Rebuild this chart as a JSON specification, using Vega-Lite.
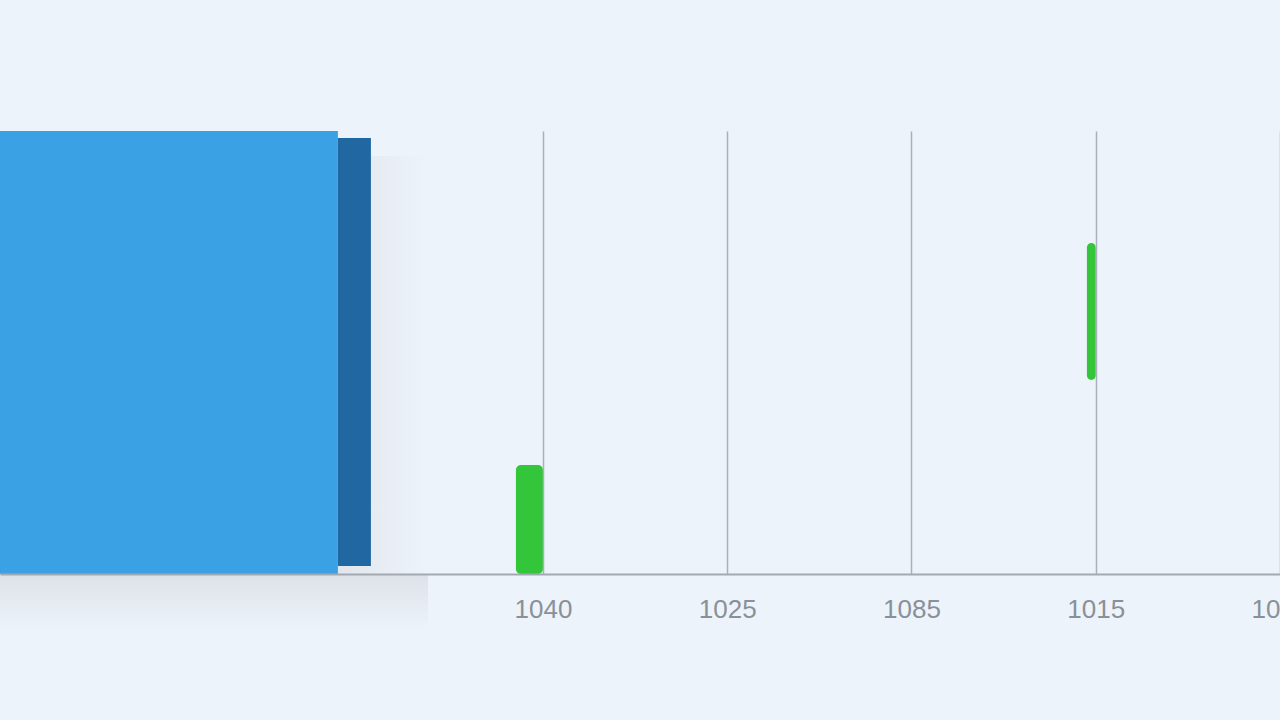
{
  "$schema": "https://vega.github.io/schema/vega-lite/v6.json",
  "description": "Single blue block and two thin green range bars on a light background.",
  "width": 1280,
  "height": 443,
  "autosize": {"type": "none"},
  "padding": {"left": 0, "top": 131, "right": 0, "bottom": 146},
  "background": "#edf3fa",
  "config": {"view": {"stroke": null}},
  "datasets": {
    "bars": [
      {"series": "blue", "start": -1.947, "end": -0.113, "low": 0, "high": 100},
      {"series": "green", "start": 0.853, "end": 1.0, "low": 0, "high": 24.6},
      {"series": "green", "start": 3.952, "end": 4.0, "low": 43.8, "high": 74.7}
    ]
  },
  "data": {"name": "bars"},
  "encoding": {
    "x": {
      "field": "start",
      "type": "quantitative",
      "scale": {"domain": [-1.947, 5], "nice": false, "zero": false},
      "axis": {
        "title": null,
        "values": [1, 2, 3, 4, 5],
        "labelExpr": "['', '1040', '1025', '1085', '1015', '1085'][datum.value]",
        "grid": true,
        "gridColor": "#a9b0b8",
        "gridWidth": 1.5,
        "ticks": false,
        "domainColor": "#a3a9b0",
        "domainWidth": 2,
        "labelFont": "Liberation Sans",
        "labelFontSize": 26,
        "labelColor": "#8a9098",
        "labelPadding": 22,
        "labelFlush": false,
        "labelOverlap": false,
        "zindex": 1
      }
    },
    "x2": {"field": "end"},
    "y": {
      "field": "high",
      "type": "quantitative",
      "scale": {"domain": [0, 100], "nice": false},
      "axis": null
    },
    "y2": {"field": "low"}
  },
  "layer": [
    {
      "transform": [{"filter": "datum.series == 'blue'"}],
      "mark": {
        "type": "rect",
        "x2Offset": 90,
        "yOffset": 25,
        "color": {
          "gradient": "linear",
          "x1": 0, "y1": 0, "x2": 1, "y2": 0,
          "stops": [
            {"offset": 0, "color": "#e2e7ed"},
            {"offset": 1, "color": "#edf3fa"}
          ]
        }
      },
      "encoding": {"x": {"field": "end", "type": "quantitative"}, "x2": {"field": "end"}}
    },
    {
      "transform": [{"filter": "datum.series == 'blue'"}],
      "mark": {
        "type": "rect",
        "x2Offset": 90,
        "y2Offset": 55,
        "color": {
          "gradient": "linear",
          "x1": 0, "y1": 0, "x2": 0, "y2": 1,
          "stops": [
            {"offset": 0, "color": "#dde2e8"},
            {"offset": 1, "color": "#edf3fa"}
          ]
        }
      },
      "encoding": {"y": {"field": "low", "type": "quantitative"}, "y2": {"field": "low"}}
    },
    {
      "transform": [{"filter": "datum.series == 'blue'"}],
      "mark": {"type": "rect", "x2Offset": 33, "yOffset": 7, "y2Offset": -8, "color": "#2168a3"},
      "encoding": {"x": {"field": "end", "type": "quantitative"}, "x2": {"field": "end"}}
    },
    {
      "transform": [{"filter": "datum.series == 'blue'"}],
      "mark": {"type": "rect", "color": "#3aa2e4"}
    },
    {
      "transform": [{"filter": "datum.series == 'green'"}],
      "mark": {"type": "rect", "color": "#33c63a", "cornerRadius": 5}
    }
  ]
}
